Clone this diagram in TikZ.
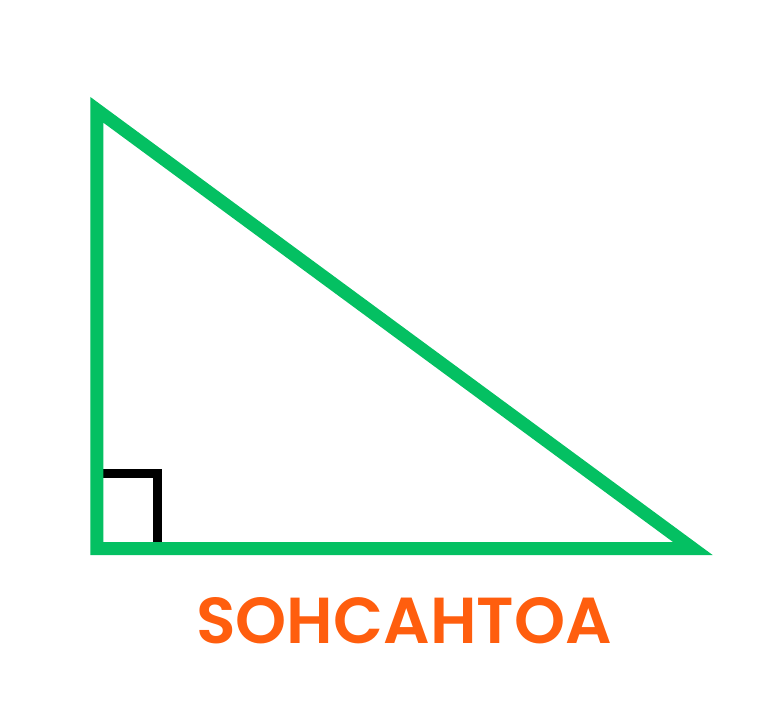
\documentclass[tikz,border=0pt]{standalone}
\usepackage{fontspec}
\setmainfont{Poppins}[BoldFont=* SemiBold]
\definecolor{trigreen}{RGB}{4,192,98}
\definecolor{triorange}{RGB}{255,94,14}
\tikzset{
  side/.style={draw=trigreen, line width=13pt, line join=miter},
  rightmark/.style={draw=black, line width=9pt, line join=miter},
  label/.style={text=triorange, font=\fontsize{65}{70}\selectfont\bfseries, inner sep=0pt}
}
\begin{document}
\begin{tikzpicture}[x=1pt,y=-1pt]
\useasboundingbox[fill=white] (0,0) rectangle (768,712);
\coordinate (A) at (96.8,109.8);
\coordinate (B) at (96.8,548.5);
\coordinate (C) at (692.8,548.5);
\coordinate (M1) at (97,473.5);
\coordinate (M2) at (157.5,473.5);
\coordinate (M3) at (157.5,545);
\draw[rightmark] (M1) -- (M2) -- (M3);
\draw[side] (A) -- (B) -- (C) -- cycle;
\node[label] (t) at (404,621) {SOHCAHTOA};
\end{tikzpicture}
\end{document}
